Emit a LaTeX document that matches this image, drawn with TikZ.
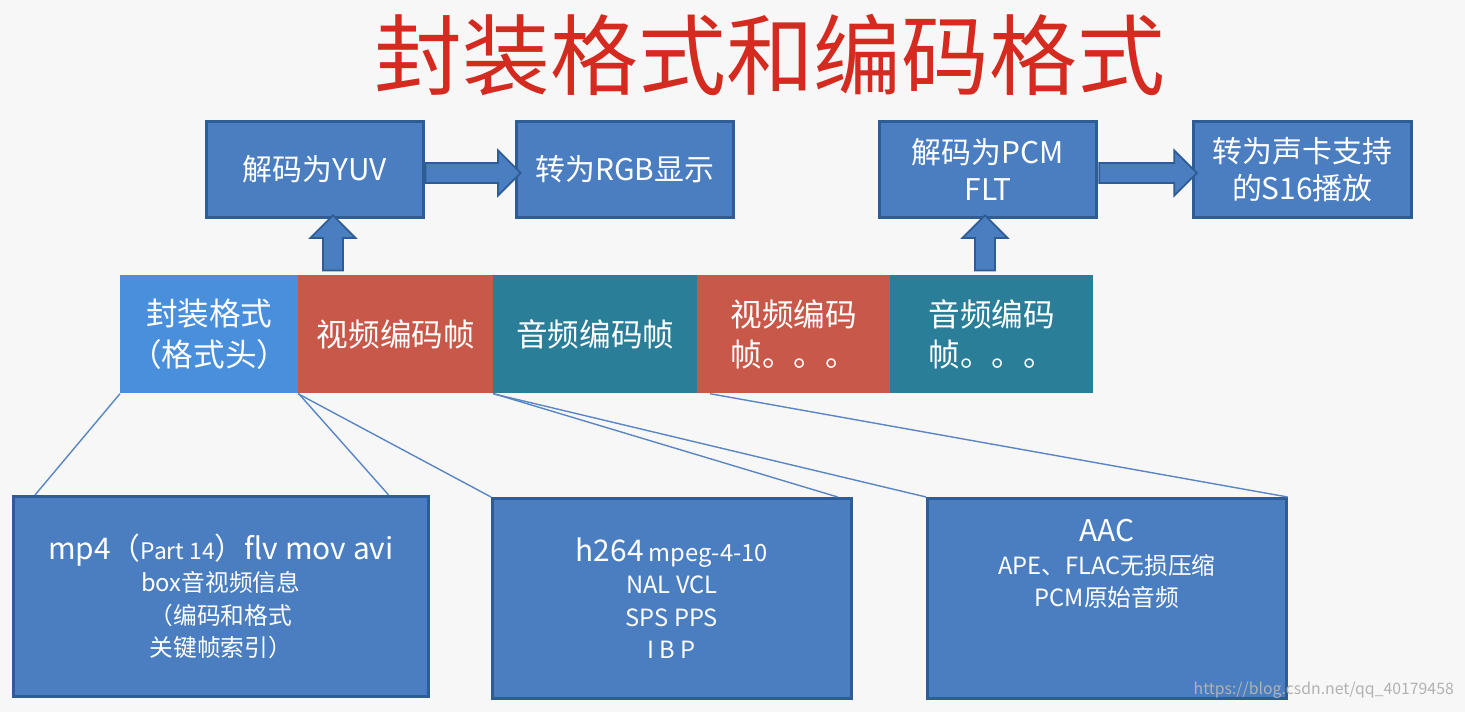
\documentclass[tikz,border=0pt]{standalone}
\usepackage{fontspec}
\setmainfont{Noto Sans CJK SC}
\usetikzlibrary{shapes.arrows}
\definecolor{boxblue}{HTML}{4A7EC0}
\definecolor{boxline}{HTML}{2D5D94}
\definecolor{headblue}{HTML}{4A8FDB}
\definecolor{frred}{HTML}{C8594A}
\definecolor{frteal}{HTML}{2A7E98}
\definecolor{titlered}{HTML}{D42A20}
\definecolor{linkblue}{HTML}{5A86C4}
\tikzset{
  box/.style={draw=boxline, line width=1.5pt, fill=boxblue, text=white, anchor=north west,
    inner sep=0pt, align=center, font=\fontsize{17}{21}\selectfont},
  frame/.style={anchor=north west, inner sep=0pt, text=white, align=center,
    minimum height=118*0.02cm, font=\fontsize{18}{23}\selectfont},
  detail/.style={box, font=\fontsize{13.5}{18.5}\selectfont},
  blockarrow/.style={single arrow, draw=boxline, line width=1pt, fill=boxblue,
    minimum height=#1, minimum width=0.9cm, single arrow head extend=0.12cm,
    single arrow tip angle=90, inner sep=0.08cm},
  link/.style={linkblue, line width=0.8pt}
}
\begin{document}
\begin{tikzpicture}[x=0.02cm, y=-0.02cm]
\useasboundingbox (0,0) rectangle (1465,712);
\fill[gray!6] (0,0) rectangle (1465,712);
% title
\node[titlered, font=\fontsize{50}{56}\selectfont] (title) at (770,55) {封装格式和编码格式};
% top row
\node[box, minimum width=217*0.02cm, minimum height=96*0.02cm] (yuv) at (205,120) {解码为YUV};
\node[box, minimum width=217*0.02cm, minimum height=96*0.02cm] (rgb) at (515,120) {转为RGB显示};
\node[box, minimum width=217*0.02cm, minimum height=96*0.02cm] (pcm) at (878,120) {解码为PCM\\FLT};
\node[box, minimum width=218*0.02cm, minimum height=96*0.02cm] (s16) at (1192,120) {转为声卡支持\\的S16播放};
% frames
\node[frame, fill=headblue, minimum width=178*0.02cm] (head) at (120,275) {封装格式\\（格式头）};
\node[frame, fill=frred, minimum width=195*0.02cm] (vfa) at (298,275) {视频编码帧};
\node[frame, fill=frteal, minimum width=204*0.02cm] (afa) at (493,275) {音频编码帧};
\node[frame, fill=frred, minimum width=193*0.02cm] (vfb) at (697,275) {视频编码\\帧。。。};
\node[frame, fill=frteal, minimum width=203*0.02cm] (afb) at (890,275) {音频编码\\帧。。。};
% block arrows
\node[blockarrow=1.9cm] (ar1) at (468,173) {};
\node[blockarrow=1.95cm] (ar2) at (1143,173) {};
\node[blockarrow=1.1cm, rotate=90] (up1) at (333,248) {};
\node[blockarrow=1.1cm, rotate=90] (up2) at (985,248) {};
% details
\node[detail, minimum width=415*0.02cm, minimum height=200*0.02cm] (cont) at (12,495)
  {{\fontsize{17}{21}\selectfont mp4（{\fontsize{13}{16}\selectfont Part 14}）flv mov avi}\\box音视频信息\\（编码和格式\\关键帧索引）};
\node[detail, minimum width=359*0.02cm, minimum height=200*0.02cm] (vcod) at (491,497)
  {{\fontsize{17}{21}\selectfont h264} mpeg-4-10\\NAL VCL\\SPS PPS\\I B P};
\node[detail, minimum width=359*0.02cm, minimum height=200*0.02cm] (acod) at (926,497)
  {{\fontsize{17}{21}\selectfont AAC}\\APE、FLAC无损压缩\\PCM原始音频\\[1.6em]};
% links
\draw[link] (head.south west) -- ([xshift=23*0.02cm]cont.north west);
\draw[link] (head.south east) -- ([xshift=-41*0.02cm]cont.north east);
\draw[link] (vfa.south west) -- (vcod.north west);
\draw[link] (vfa.south east) -- ([xshift=-15*0.02cm]vcod.north east);
\draw[link] (afa.south west) -- (acod.north west);
\draw[link] ([xshift=13*0.02cm]vfb.south west) -- (acod.north east);
\node[gray!60, font=\fontsize{9}{11}\selectfont, anchor=south east] (mark) at (1460,705) {https://blog.csdn.net/qq\_40179458};
\end{tikzpicture}
\end{document}
